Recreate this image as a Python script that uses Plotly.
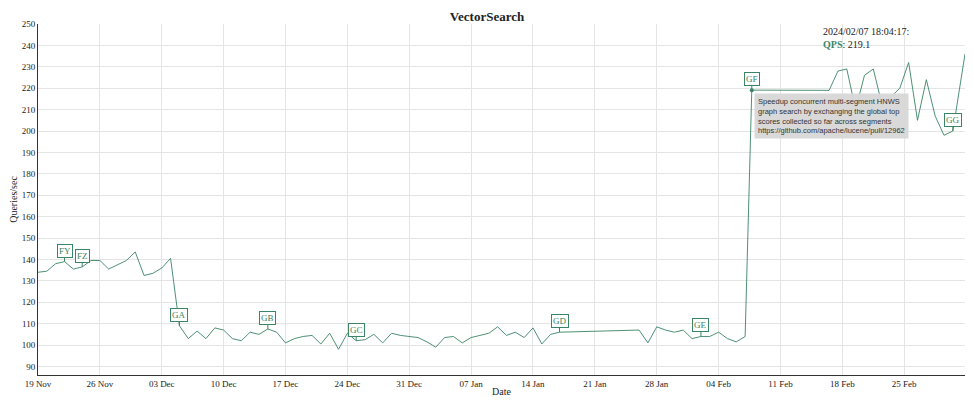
import plotly.graph_objects as go
import pandas as pd

# daily QPS values
dates_a = pd.date_range("2023-11-19", "2024-01-17").strftime("%Y-%m-%d").tolist()
qps_a = [134, 134.5, 138, 139, 135.5, 136.5, 139.5, 139.5, 135.5, 137.5, 139.5, 143.5,
         132.5, 133.5, 136, 140.5, 109, 103, 106.5, 103, 108, 107, 103, 102, 106, 105,
         107.5, 106, 101, 103, 104, 104.5, 100.5, 105.5, 98, 105.5, 102, 102.5, 105, 101,
         105.5, 104.5, 104, 103.5, 101.5, 99, 103.5, 104, 101, 103.5, 104.5, 105.5, 108.5,
         104.5, 106, 103.5, 108, 100.5, 105, 106]
dates_b = ["2024-01-26", "2024-01-27", "2024-01-28", "2024-01-29", "2024-01-30", "2024-01-31",
           "2024-02-01", "2024-02-02", "2024-02-03", "2024-02-04", "2024-02-05", "2024-02-06",
           "2024-02-07", "2024-02-07 18:04", "2024-02-16 12:00", "2024-02-17 12:00",
           "2024-02-18 12:00", "2024-02-19 12:00", "2024-02-20 12:00", "2024-02-21 12:00",
           "2024-02-22 12:00", "2024-02-23 12:00", "2024-02-24 12:00", "2024-02-25 12:00",
           "2024-02-26 12:00", "2024-02-27 12:00", "2024-02-28 12:00", "2024-02-29 12:00",
           "2024-03-01 12:00", "2024-03-02 21:00"]
qps_b = [107, 101, 108.5, 107, 106, 107, 103, 104, 104, 106, 103, 101.5,
         104, 219.1, 219, 228, 229, 210, 226, 229, 212, 216, 220,
         232, 205, 224, 207, 198, 200, 236]
dates = dates_a + dates_b
qps = qps_a + qps_b

# change markers
marks = ["FY", "FZ", "GA", "GB", "GC", "GD", "GE", "GF", "GG"]
mark_dates = ["2023-11-22", "2023-11-24", "2023-12-05", "2023-12-15", "2023-12-25",
              "2024-01-17", "2024-02-02", "2024-02-07 18:04", "2024-03-01 12:00"]

green = "#3a8565"
fig = go.Figure()
fig.add_trace(go.Scatter(x=dates, y=qps, mode="lines", line=dict(color=green, width=0.9),
                         hoverinfo="skip", showlegend=False))

lookup = dict(zip(dates, qps))
for m, d in zip(marks, mark_dates):
    fig.add_annotation(x=d, y=lookup[d], text=m, showarrow=True, arrowhead=0, arrowcolor=green,
                       arrowwidth=1, ax=0, ay=-11, font=dict(color=green, size=9),
                       bordercolor=green, borderwidth=1, borderpad=1, bgcolor="white")

# highlighted point + tooltip
fig.add_trace(go.Scatter(x=["2024-02-07 18:04"], y=[219.1], mode="markers",
                         marker=dict(color=green, size=4), showlegend=False, hoverinfo="skip"))
fig.add_annotation(x="2024-02-07 18:04", y=219.1, xanchor="left", yanchor="top", showarrow=False,
                   xshift=2, yshift=-3, align="left",
                   text="Speedup concurrent multi-segment HNWS<br>graph search by exchanging the global top"
                        "<br>scores collected so far across segments<br>https://github.com/apache/lucene/pull/12962",
                   font=dict(family="Liberation Sans", size=7.5, color="#333"),
                   bgcolor="rgba(215,215,215,0.95)", borderpad=3)
fig.add_annotation(x=0.845, y=1.0, xref="paper", yref="paper", xanchor="left", yanchor="top",
                   showarrow=False, align="left",
                   text="2024/02/07 18:04:17:<br><b><span style='color:%s'>QPS</span></b>: 219.1" % green,
                   font=dict(size=10, color="#222"))

fig.update_layout(
    width=958, height=395, plot_bgcolor="white", paper_bgcolor="white",
    margin=dict(l=30, r=1, t=16, b=28),
    font=dict(family="Liberation Serif", size=9, color="#222"),
    title=dict(text="<b>VectorSearch</b>", x=0.5, y=0.99, yanchor="top", font=dict(size=13)),
    xaxis=dict(range=["2023-11-19", "2024-03-02 21:00"], showgrid=True, gridcolor="#e4e4e4",
               tickformat="%d %b", dtick=7 * 86400000, tick0="2023-11-19", automargin=False,
               showline=True, linecolor="#333", ticks="", zeroline=False,
               title=dict(text="Date", standoff=0, font=dict(size=10))),
    yaxis=dict(range=[86, 250], dtick=10, showgrid=True, gridcolor="#e4e4e4", automargin=False,
               showline=True, linecolor="#333", zeroline=False,
               title=dict(text="Queries/sec", standoff=2, font=dict(size=10))),
)
fig.write_html("out.html")
